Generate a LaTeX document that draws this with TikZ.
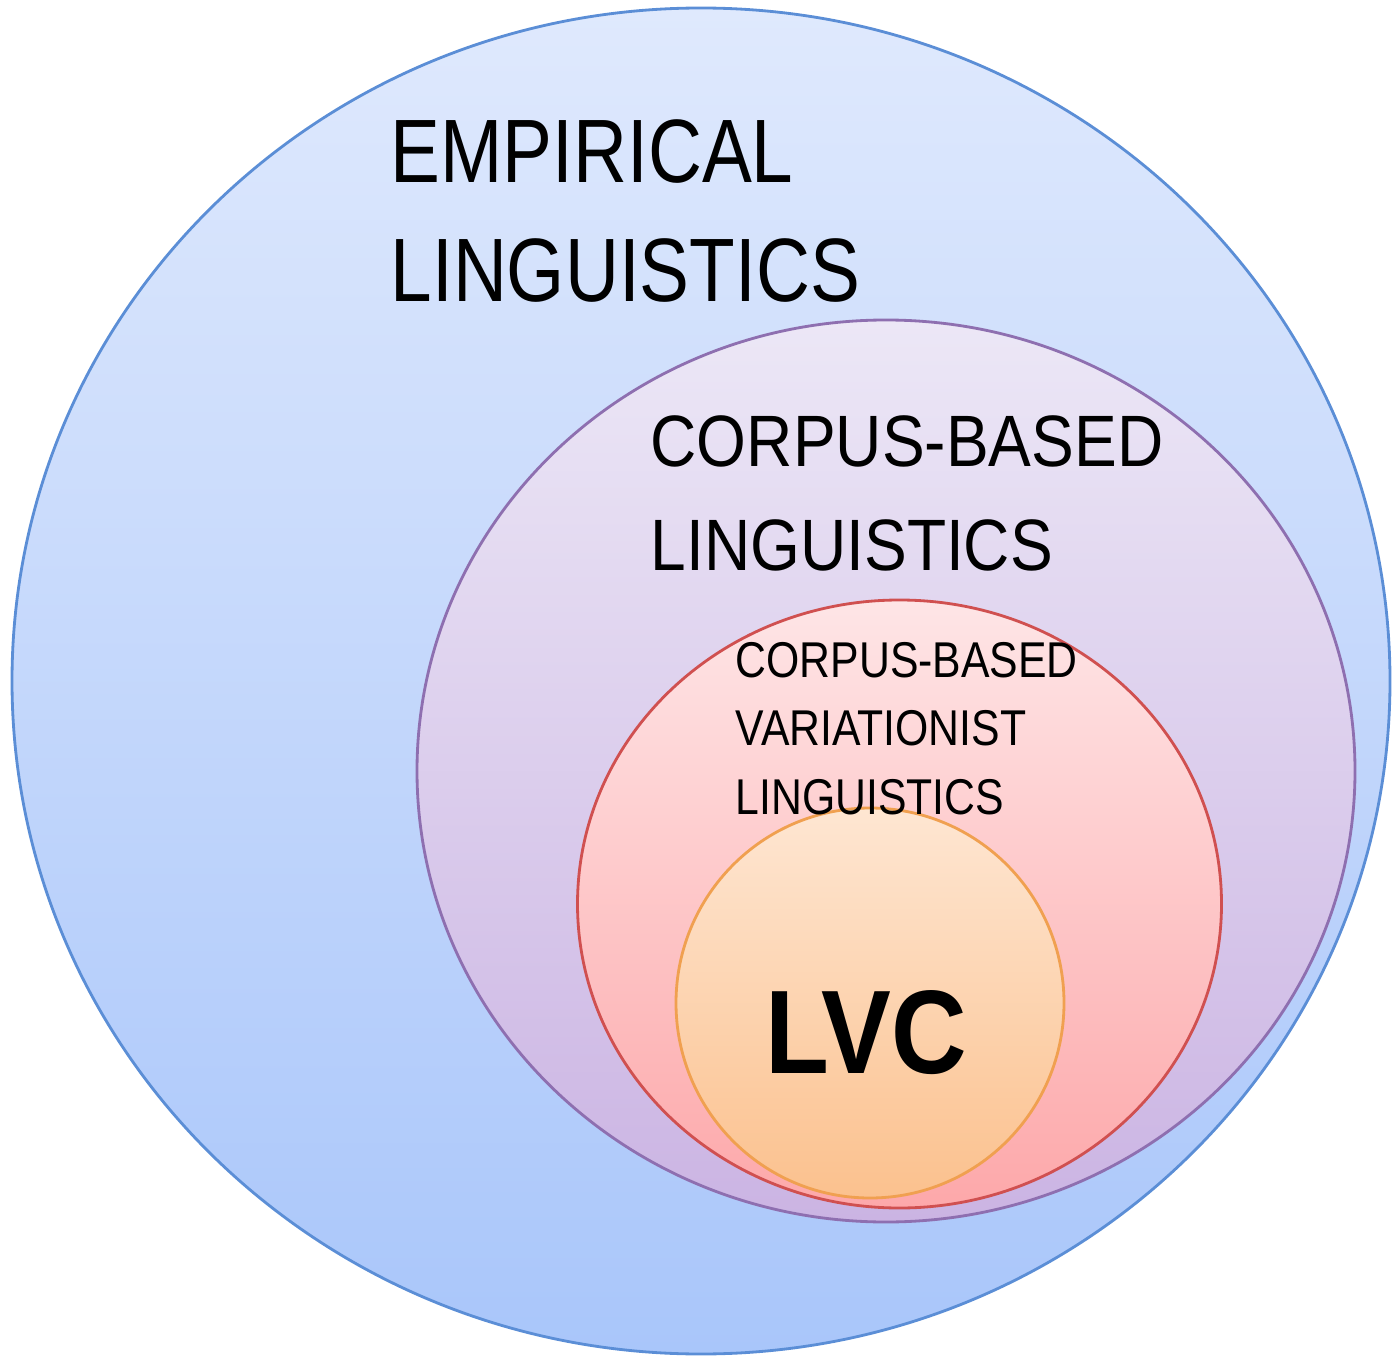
\documentclass[tikz,border=0pt]{standalone}
\usepackage{fontspec}
\setmainfont{Liberation Sans}
\newfontfamily\narA[FakeStretch=0.83]{Liberation Sans}
\newfontfamily\narB[FakeStretch=0.88]{Liberation Sans}
\newfontfamily\narC[FakeStretch=0.85]{Liberation Sans}
\newfontfamily\narD[FakeStretch=0.88]{Liberation Sans}
\definecolor{oTop}{HTML}{DFE9FD}\definecolor{oBot}{HTML}{A9C6FA}\definecolor{oEdge}{HTML}{5B8ED6}
\definecolor{pTop}{HTML}{ECE7F6}\definecolor{pBot}{HTML}{CBB4E3}\definecolor{pEdge}{HTML}{8E6FB0}
\definecolor{rTop}{HTML}{FEE5E6}\definecolor{rBot}{HTML}{FDA8AA}\definecolor{rEdge}{HTML}{D05050}
\definecolor{yTop}{HTML}{FEE6D2}\definecolor{yBot}{HTML}{FBC18E}\definecolor{yEdge}{HTML}{F0A050}
\tikzset{lab/.style={anchor=base west,inner sep=0pt,align=left}}
\begin{document}
\begin{tikzpicture}[x=0.01cm,y=-0.01cm]
\useasboundingbox (0,0) rectangle (1400,1367);
\shade[top color=oTop,bottom color=oBot,draw=oEdge,line width=0.8pt] (701,681) ellipse [x radius=689,y radius=673];
\shade[top color=pTop,bottom color=pBot,draw=pEdge,line width=0.8pt] (886,771) ellipse [x radius=469,y radius=451];
\shade[top color=rTop,bottom color=rBot,draw=rEdge,line width=0.8pt] (899.5,904) ellipse [x radius=322,y radius=304];
\shade[top color=yTop,bottom color=yBot,draw=yEdge,line width=0.8pt] (870,1003) ellipse [x radius=194,y radius=195];
\node[lab,font=\narA\fontsize{25.6pt}{33.9pt}\selectfont] (emp) at (390,302) {EMPIRICAL\\LINGUISTICS};
\node[lab,font=\narB\fontsize{20.7pt}{29.3pt}\selectfont] (cbl) at (650,570) {CORPUS-BASED\\LINGUISTICS};
\node[lab,font=\narC\fontsize{14.3pt}{19.35pt}\selectfont] (cbv) at (735,814) {CORPUS-BASED\\VARIATIONIST\\LINGUISTICS};
\node[anchor=base,inner sep=0pt,font=\narD\bfseries\fontsize{33.8pt}{40pt}\selectfont] (lvc) at (866,1073) {LVC};
\end{tikzpicture}
\end{document}
